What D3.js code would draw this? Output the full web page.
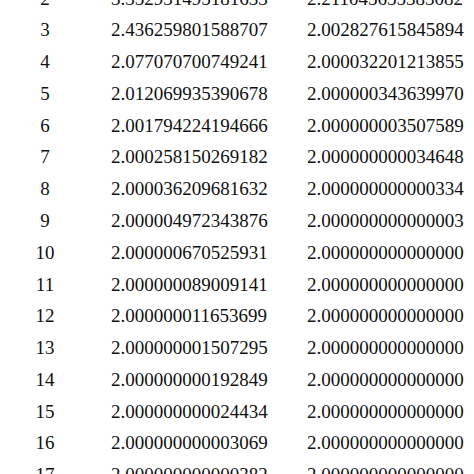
<!DOCTYPE html>
<html><head><meta charset="utf-8">
<script src="https://cdn.jsdelivr.net/npm/d3@7"></script>
<style>body{margin:0;background:#fff}</style></head>
<body><svg id="c" width="474" height="474"></svg>
<script>
const rows = [2,3,4,5,6,7,8,9,10,11,12,13,14,15,16,17];
const colA = ["3.352931495181633","2.436259801588707","2.077070700749241","2.012069935390678","2.001794224194666","2.000258150269182","2.000036209681632","2.000004972343876","2.000000670525931","2.000000089009141","2.000000011653699","2.000000001507295","2.000000000192849","2.000000000024434","2.000000000003069","2.000000000000382"];
const colB = ["2.211045655383082","2.002827615845894","2.000032201213855","2.000000343639970","2.000000003507589","2.000000000034648","2.000000000000334","2.000000000000003","2.000000000000000","2.000000000000000","2.000000000000000","2.000000000000000","2.000000000000000","2.000000000000000","2.000000000000000","2.000000000000000"];
const svg = d3.select("#c");
const y = d3.scaleLinear().domain([2,17]).range([-2,474.5]);
const g = svg.selectAll("g").data(rows).join("g")
  .attr("transform", d => `translate(0,${y(d)})`)
  .style("font-family","'Liberation Serif','Times New Roman',serif")
  .style("font-size","19px").attr("fill","#111");
g.append("text").attr("x",45).attr("text-anchor","middle").attr("dy","0.35em").text(d=>d);
g.append("text").attr("x",111).attr("dy","0.35em").text((d,i)=>colA[i]);
g.append("text").attr("x",307).attr("dy","0.35em").text((d,i)=>colB[i]);
</script></body></html>
